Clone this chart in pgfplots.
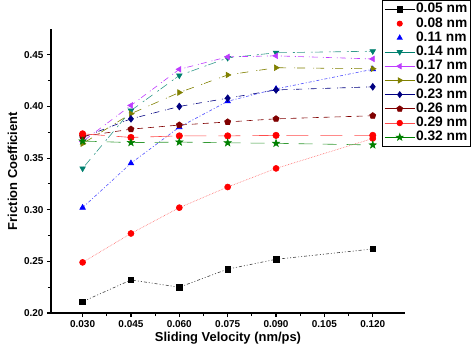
\documentclass[border=0pt]{standalone}
\usepackage{fontspec}
\setmainfont{Liberation Sans}
\usepackage{pgfplots}
\pgfplotsset{compat=1.18}
\usetikzlibrary{plotmarks}
\definecolor{cteal}{RGB}{0,128,110}
\definecolor{cviolet}{RGB}{190,60,255}
\definecolor{colive}{RGB}{128,128,0}
\definecolor{cnavy}{RGB}{0,0,128}
\definecolor{cwine}{RGB}{128,0,0}
\definecolor{cgreen}{RGB}{0,128,0}
\definecolor{cred}{RGB}{255,0,0}
\definecolor{cblue}{RGB}{0,0,255}
\pgfdeclareplotmark{fstar}{%
  \pgfpathmoveto{\pgfpointpolar{90}{1.25\pgfplotmarksize}}%
  \pgfpathlineto{\pgfpointpolar{126}{0.5\pgfplotmarksize}}%
  \pgfpathlineto{\pgfpointpolar{162}{1.25\pgfplotmarksize}}%
  \pgfpathlineto{\pgfpointpolar{198}{0.5\pgfplotmarksize}}%
  \pgfpathlineto{\pgfpointpolar{234}{1.25\pgfplotmarksize}}%
  \pgfpathlineto{\pgfpointpolar{270}{0.5\pgfplotmarksize}}%
  \pgfpathlineto{\pgfpointpolar{306}{1.25\pgfplotmarksize}}%
  \pgfpathlineto{\pgfpointpolar{342}{0.5\pgfplotmarksize}}%
  \pgfpathlineto{\pgfpointpolar{18}{1.25\pgfplotmarksize}}%
  \pgfpathlineto{\pgfpointpolar{54}{0.5\pgfplotmarksize}}%
  \pgfpathclose\pgfusepathqfillstroke}
\begin{document}
\begin{tikzpicture}
\useasboundingbox (-51bp,-45bp) rectangle (423bp,313bp);
\begin{axis}[
  at={(0,0)}, anchor=south west,
  scale only axis, width=354bp, height=284bp,
  axis lines*=left,
  axis line style={line width=1.3bp},
  xmin=0.0202, xmax=0.130, ymin=0.20, ymax=0.475,
  xtick={0.030,0.045,0.060,0.075,0.090,0.105,0.120},
  ytick={0.20,0.25,0.30,0.35,0.40,0.45},
  minor x tick num=1, minor y tick num=1,
  tick align=outside,
  major tick length=4bp, minor tick length=3bp,
  tick style={line width=1.1bp, black},
  x tick label style={/pgf/number format/.cd, fixed, fixed zerofill, precision=3, assume math mode=true},
  y tick label style={/pgf/number format/.cd, fixed, fixed zerofill, precision=2, assume math mode=true},
  ticklabel style={font=\fontsize{10}{12}\selectfont\bfseries},
  scaled x ticks=false, scaled y ticks=false,
  xlabel={Sliding Velocity (nm/ps)},
  ylabel={Friction Coefficient},
  label style={font=\fontsize{13}{15}\selectfont\bfseries},
  xlabel style={yshift=2bp},
  ylabel style={yshift=0bp},
  clip=false,
  legend cell align=left,
  legend style={at={(axis description cs:0.935,1.102)}, anchor=north west,
    draw=black, line width=0.8bp,
    font=\fontsize{13.8}{15}\selectfont\bfseries,
    inner xsep=2bp, inner ysep=2bp,
    row sep=0.2bp,
    nodes={inner sep=1bp, text height=9.5bp, text depth=2.5bp}},
  legend image code/.code={\draw[mark repeat=2,mark phase=2] plot coordinates {(0bp,0bp) (15bp,0bp) (30bp,0bp)};},
  mark size=3bp,
]
% legend images
\addlegendimage{black, line width=0.7bp, solid, mark=square*, mark size=2.6bp}
\addlegendentry{0.05 nm}
\addlegendimage{only marks, cred, mark=*, mark size=2.6bp}
\addlegendentry{0.08 nm}
\addlegendimage{only marks, cblue, mark=triangle*, mark size=2.8bp}
\addlegendentry{0.11 nm}
\addlegendimage{cteal, line width=0.7bp, solid, mark=triangle*, mark size=3bp, mark options={rotate=180}}
\addlegendentry{0.14 nm}
\addlegendimage{cviolet, line width=0.7bp, solid, mark=triangle*, mark size=3bp, mark options={rotate=90}}
\addlegendentry{0.17 nm}
\addlegendimage{colive, line width=0.7bp, solid, mark=triangle*, mark size=3bp, mark options={rotate=-90}}
\addlegendentry{0.20 nm}
\addlegendimage{cnavy, line width=0.7bp, solid, mark=diamond*, mark size=3bp}
\addlegendentry{0.23 nm}
\addlegendimage{cwine, line width=0.7bp, solid, mark=pentagon*, mark size=3bp}
\addlegendentry{0.26 nm}
\addlegendimage{cred!70, line width=0.7bp, solid, mark=*, mark size=2.8bp, mark options={cred}}
\addlegendentry{0.29 nm}
\addlegendimage{cgreen, line width=0.7bp, solid, mark=fstar, mark size=2.8bp}
\addlegendentry{0.32 nm}
% data
\addplot[forget plot, black!75, line width=0.6bp, dash pattern=on 3bp off 2bp on 1bp off 2bp on 1bp off 2bp, mark=square*, mark size=2.8bp, mark options={solid, black}]
  coordinates {(0.030,0.211) (0.045,0.232) (0.060,0.225) (0.075,0.2425) (0.090,0.252) (0.120,0.262)};
\addplot[forget plot, cred!60, line width=0.6bp, densely dotted, mark=*, mark size=3bp, mark options={solid, cred}]
  coordinates {(0.030,0.249) (0.045,0.277) (0.060,0.302) (0.075,0.322) (0.090,0.340) (0.120,0.369)};
\addplot[forget plot, cblue!70, line width=0.6bp, dash pattern=on 3bp off 2bp on 1bp off 2bp, mark=triangle*, mark size=3.2bp, mark options={solid, cblue}]
  coordinates {(0.030,0.302) (0.045,0.345) (0.060,0.380) (0.075,0.405) (0.090,0.417) (0.120,0.436)};
\addplot[forget plot, cteal!80, line width=0.6bp, dash pattern=on 2bp off 2bp on 8bp off 6bp, mark=triangle*, mark size=3.2bp, mark options={solid, cteal, rotate=180}]
  coordinates {(0.030,0.340) (0.045,0.396) (0.060,0.430) (0.075,0.447) (0.090,0.452) (0.120,0.4535)};
\addplot[forget plot, cviolet, line width=0.6bp, dash pattern=on 1bp off 2bp on 6bp off 5bp, mark=triangle*, mark size=3.2bp, mark options={solid, cviolet, rotate=90}]
  coordinates {(0.030,0.366) (0.045,0.401) (0.060,0.436) (0.075,0.448) (0.090,0.449) (0.120,0.446)};
\addplot[forget plot, colive, line width=0.6bp, dash pattern=on 1bp off 2bp on 8bp off 8bp, mark=triangle*, mark size=3.2bp, mark options={solid, colive, rotate=-90}]
  coordinates {(0.030,0.364) (0.045,0.393) (0.060,0.4135) (0.075,0.4305) (0.090,0.4375) (0.120,0.4365)};
\addplot[forget plot, cnavy, line width=0.6bp, dash pattern=on 1bp off 1.5bp on 6bp off 6bp, mark=diamond*, mark size=3.4bp, mark options={solid, cnavy}]
  coordinates {(0.030,0.370) (0.045,0.388) (0.060,0.400) (0.075,0.408) (0.090,0.416) (0.120,0.419)};
\addplot[forget plot, cwine, line width=0.6bp, dash pattern=on 6bp off 5bp, mark=pentagon*, mark size=3.2bp, mark options={solid, cwine}]
  coordinates {(0.030,0.371) (0.045,0.378) (0.060,0.382) (0.075,0.385) (0.090,0.388) (0.120,0.391)};
\addplot[forget plot, cred!70, line width=0.6bp, dash pattern=on 22bp off 12bp, mark=*, mark size=3.2bp, mark options={solid, cred}]
  coordinates {(0.030,0.3735) (0.045,0.370) (0.060,0.3715) (0.075,0.3715) (0.090,0.372) (0.120,0.372)};
\addplot[forget plot, cgreen!80, line width=0.6bp, dash pattern=on 14bp off 10bp, mark=fstar, mark size=3bp, mark options={solid, cgreen}]
  coordinates {(0.030,0.3665) (0.045,0.365) (0.060,0.3655) (0.075,0.3648) (0.090,0.3643) (0.120,0.3627)};
\end{axis}
\end{tikzpicture}
\end{document}
